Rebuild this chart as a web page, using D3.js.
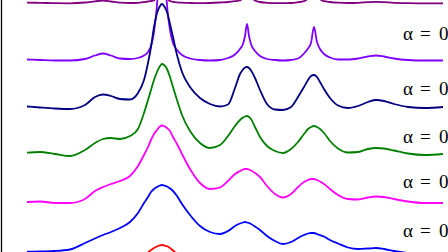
<!DOCTYPE html>
<html>
<head>
<meta charset="utf-8">
<script src="https://cdn.jsdelivr.net/npm/d3@7"></script>
<style>
  html, body { margin: 0; padding: 0; background: #fff; }
  svg { display: block; }
</style>
</head>
<body>
<svg id="chart" width="448" height="252"></svg>
<script>
// Shared frequency-shift sample positions (arbitrary units)
const shift = [0,13,28,43,58,68,76,84,93,103,
  111,117,121,124,127,130,133,135,137,140,
  143,146,150,155,163,173,183,193,201,208,
  213,216,218,220,222,224,228,233,240,248,
  256,264,271,277,281,284,287,290,293,297,
  303,311,321,331,341,349,357,367,381,398,416];

// Spectra (intensity, a.u.)
const specA = [0.3,0.2,-0.2,-0.3,0.5,1.7,2.5,1.5,0.3,0,
  0.2,1,1.5,2,2.5,18,103,203,103,6,
  1.8,1.2,0.7,0.3,0,-0.2,0,0.5,1,1.8,
  2.5,8,23,63,23,8,2.5,1,0.2,-0.2,
  -0.2,0,0.8,1.8,5,15,53,15,4,1.8,
  1,0.3,0,0.2,0.8,1.2,0.8,0.2,-0.2,-0.3,-0.3];
const specB = [0.5,0,-0.5,-0.5,1,4.5,6.5,4.5,1.5,1,
  2,4.5,8,14,28,55,110,160,110,55,
  30,17,10,5,1.5,0,-0.5,0,2,5.5,
  11,16,24,36,24,16,9,4,1,0,
  -0.5,0,1.5,6.5,11.5,17,33,18,11,6,
  2.5,0.5,0.5,1.5,3.5,4.5,3.5,1.5,0,-0.5,-0.5];
const specC = [0.5,-0.5,-1.5,-2,2,10,12.5,11,8,7.5,
  14,27,44,60,80,94,101,103,101,95,
  83,70,52,35,20,9,3,0.5,2.5,19,
  33,37.5,39.5,40,39,36.5,29,17,3,-2.5,
  -3,0,10,20,27,31,32,30,25,18,
  9,1.5,-1,1,5,7,6,3,0,-1,0];
const specD = [0.3,1,-1,-3,3,10,14,15,14,17,
  24,40,53,63,73,81,87,89,88,84,
  76,66,53,38,22,10,5,8,17,27,
  33,35.5,36.5,37,36,34,26,16,7,2,
  0,4,11,19,24,26,27,26,24,20,
  12,4.5,0.5,1,4,5,4.5,2.5,-0.5,-2,-1];
const specE = [0,0.5,-1,-1,3,11,15,18,21,26,
  36,47,55,62,68,72,75.5,76.5,76,74,
  71,65,58,48,33,19,13,14.5,21,28,
  31,32.5,33,33,32.5,31.5,29,25,16,8,
  4.5,8,15,20,22,23,23,22,20.5,18,
  13,7,3,2.5,4.5,5.5,5,3,0.5,-1,-1];
const specF = [0.3,0.6,1,2.5,9,13.5,17,20,24,30,
  39,49,55,60,63,65,66.5,67,66.5,65.5,
  63.5,61,56,48,37,26,20,18,21,26,
  28.5,29.5,30,29.5,29,28,25.5,22,16,11,
  8,10,14,17,18.5,19,19,18,17,15.5,
  12,8.5,4.5,3,3.5,4,3,1,-1,-2.5,-3];
const specG = [-1,-1,0,2,7,11,14,18,22,30,
  38,44,47.5,50,52,53.5,54.7,55,54.7,53.7,
  52,49.5,46,40,30,19,12,10,12,15,
  17,17.5,18,18,17.5,17,16,14,11,8,
  6,7,9,10,10.5,11,11,10.5,10,9,
  8,5,3,2.5,3,3,2.5,1,-1,-2,-3];

const spectra = [specA, specB, specC, specD, specE, specF, specG];
const offsets = [249, 192, 145, 99, 50, 0, -48];
const colors = ["#800080", "#8000ff", "#000080", "#008000", "#ff00ff", "#0000ff", "#ff0000"];
// labels visible in the frame (curves 2..6)
const labelText = ["α = 0.1", "α = 0.2", "α = 0.3", "α = 0.4", "α = 0.5"];
const labelLevel = [212, 157, 109, 64, 15];

const svg = d3.select("#chart");
const W = 448, H = 252;

const x = d3.scaleLinear().domain([0, 416]).range([27, 443]);
const y = d3.scaleLinear().domain([0, 252]).range([H, 0]);

// left frame line
svg.append("line")
  .attr("x1", 1.5).attr("x2", 1.5)
  .attr("y1", 0).attr("y2", H)
  .attr("stroke", "#000").attr("stroke-width", 1.3);

const line = d3.line()
  .x((d, i) => x(shift[i]))
  .curve(d3.curveMonotoneX);

spectra.forEach((s, k) => {
  svg.append("path")
    .attr("d", line.y(d => y(offsets[k] + d))(s))
    .attr("fill", "none")
    .attr("stroke", colors[k])
    .attr("stroke-width", 1.8)
    .attr("stroke-linejoin", "round");
});

// labels
labelText.forEach((t, k) => {
  const parts = t.split(" ");
  const txt = svg.append("text")
    .attr("y", y(labelLevel[k]))
    .attr("font-family", "'Liberation Serif', 'Times New Roman', serif")
    .attr("font-size", 19)
    .attr("fill", "#000");
  txt.append("tspan").attr("x", 403).text(parts[0]);
  txt.append("tspan").attr("x", 420).text(parts[1]);
  txt.append("tspan").attr("x", 439).text(parts[2]);
});
</script>
</body>
</html>
